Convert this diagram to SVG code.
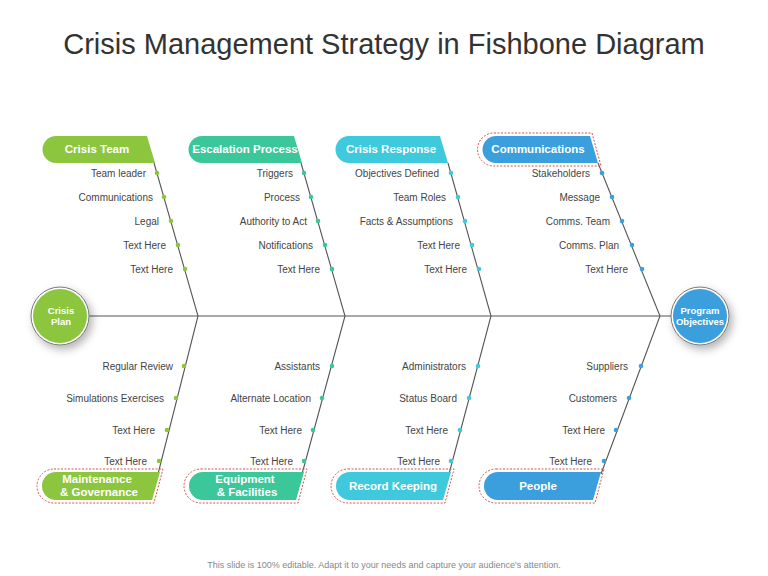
<svg xmlns="http://www.w3.org/2000/svg" width="768" height="576" viewBox="0 0 768 576">
<defs>
<style>
text{font-family:"Liberation Sans",Arial,sans-serif}
.t{font-size:29px;fill:#333;text-anchor:middle}
.l{font-size:10px;fill:#444;text-anchor:end}
.h{font-size:11.5px;font-weight:bold;fill:#fff;text-anchor:middle}
.bone{stroke:#555;stroke-width:1.1;fill:none}
.dash{fill:none;stroke:#d9534f;stroke-width:1;stroke-dasharray:2 1.5}
.g{fill:#8cc63f}.tl{fill:#3cc79a}.c{fill:#3ec9dc}.b{fill:#3a9fdc}
</style>
<filter id="sh" x="-50%" y="-50%" width="200%" height="200%"><feDropShadow dx="3" dy="4" stdDeviation="4" flood-color="#000" flood-opacity="0.3"/></filter>
</defs>
<rect width="768" height="576" fill="#fff"/>
<text class="t" x="384" y="54">Crisis Management Strategy in Fishbone Diagram</text>
<g id="connectors">
<line class="bone" x1="86" y1="316" x2="672" y2="316"/>
<polyline class="bone" points="154,163 198,316 158,474"/>
<polyline class="bone" points="301,163 345,316 302,474"/>
<polyline class="bone" points="448,163 491,316 449,474"/>
<polyline class="bone" points="598,163 660,316 601,474"/>
</g>
<g id="dots">
<g class="g"><circle cx="157" cy="173" r="2.3"/><circle cx="164" cy="197" r="2.3"/><circle cx="171" cy="221" r="2.3"/><circle cx="178" cy="245" r="2.3"/><circle cx="185" cy="269" r="2.3"/><circle cx="184" cy="366" r="2.3"/><circle cx="176" cy="398" r="2.3"/><circle cx="167" cy="430" r="2.3"/><circle cx="159" cy="461" r="2.3"/></g>
<g class="tl"><circle cx="304" cy="173" r="2.3"/><circle cx="311" cy="197" r="2.3"/><circle cx="318" cy="221" r="2.3"/><circle cx="325" cy="245" r="2.3"/><circle cx="332" cy="269" r="2.3"/><circle cx="332" cy="366" r="2.3"/><circle cx="322" cy="398" r="2.3"/><circle cx="313" cy="430" r="2.3"/><circle cx="304" cy="461" r="2.3"/></g>
<g class="c"><circle cx="451" cy="173" r="2.3"/><circle cx="458" cy="197" r="2.3"/><circle cx="465" cy="221" r="2.3"/><circle cx="472" cy="245" r="2.3"/><circle cx="479" cy="269" r="2.3"/><circle cx="478" cy="366" r="2.3"/><circle cx="469" cy="398" r="2.3"/><circle cx="460" cy="430" r="2.3"/><circle cx="451" cy="461" r="2.3"/></g>
<g class="b"><circle cx="602" cy="173" r="2.3"/><circle cx="612" cy="197" r="2.3"/><circle cx="622" cy="221" r="2.3"/><circle cx="632" cy="245" r="2.3"/><circle cx="642" cy="269" r="2.3"/><circle cx="641" cy="366" r="2.3"/><circle cx="629" cy="398" r="2.3"/><circle cx="616" cy="430" r="2.3"/><circle cx="604" cy="461" r="2.3"/></g>
</g>
<g id="labels">
<text class="l" x="146" y="177">Team leader</text><text class="l" x="153" y="201">Communications</text><text class="l" x="159" y="225">Legal</text><text class="l" x="166" y="249">Text Here</text><text class="l" x="173" y="273">Text Here</text>
<text class="l" x="173" y="370">Regular Review</text><text class="l" x="164" y="402">Simulations Exercises</text><text class="l" x="155" y="434">Text Here</text><text class="l" x="147" y="465">Text Here</text>
<text class="l" x="293" y="177">Triggers</text><text class="l" x="300" y="201">Process</text><text class="l" x="307" y="225">Authority to Act</text><text class="l" x="313" y="249">Notifications</text><text class="l" x="320" y="273">Text Here</text>
<text class="l" x="320" y="370">Assistants</text><text class="l" x="311" y="402">Alternate Location</text><text class="l" x="302" y="434">Text Here</text><text class="l" x="293" y="465">Text Here</text>
<text class="l" x="439" y="177">Objectives Defined</text><text class="l" x="446" y="201">Team Roles</text><text class="l" x="453" y="225">Facts &amp; Assumptions</text><text class="l" x="460" y="249">Text Here</text><text class="l" x="467" y="273">Text Here</text>
<text class="l" x="466" y="370">Administrators</text><text class="l" x="457" y="402">Status Board</text><text class="l" x="448" y="434">Text Here</text><text class="l" x="440" y="465">Text Here</text>
<text class="l" x="590" y="177">Stakeholders</text><text class="l" x="600" y="201">Message</text><text class="l" x="610" y="225">Comms. Team</text><text class="l" x="619" y="249">Comms. Plan</text><text class="l" x="628" y="273">Text Here</text>
<text class="l" x="628" y="370">Suppliers</text><text class="l" x="617" y="402">Customers</text><text class="l" x="605" y="434">Text Here</text><text class="l" x="592" y="465">Text Here</text>
</g>
<g id="crisis-team"><path class="g" d="M56,136 H147 L155,163 H56 A13.5,13.5 0 0 1 56,136 Z"/><text class="h" x="97" y="153">Crisis Team</text></g>
<g id="escalation-process"><path class="tl" d="M202,136 H294 L302,163 H202 A13.5,13.5 0 0 1 202,136 Z"/><text class="h" x="245" y="153">Escalation Process</text></g>
<g id="crisis-response"><path class="c" d="M349,136 H440 L448,163 H349 A13.5,13.5 0 0 1 349,136 Z"/><text class="h" x="391" y="153">Crisis Response</text></g>
<g id="communications"><path class="dash" d="M494,133 H592 L601,166 H494 A16.5,16.5 0 0 1 494,133 Z"/><path class="b" d="M496,136 H590 L598,163 H496 A13.5,13.5 0 0 1 496,136 Z"/><text class="h" x="538" y="153">Communications</text></g>
<g id="maintenance"><path class="dash" d="M54,469 H163 L154,503 H54 A17,17 0 0 1 54,469 Z"/><path class="g" d="M56,472 H160 L152,500 H56 A14,14 0 0 1 56,472 Z"/><text class="h" x="97" y="483">Maintenance</text><text class="h" x="99" y="496">&amp; Governance</text></g>
<g id="equipment"><path class="dash" d="M201,469 H307 L298,503 H201 A17,17 0 0 1 201,469 Z"/><path class="tl" d="M203,472 H304 L296,500 H203 A14,14 0 0 1 203,472 Z"/><text class="h" x="245" y="483">Equipment</text><text class="h" x="247" y="496">&amp; Facilities</text></g>
<g id="record-keeping"><path class="dash" d="M348,469 H454 L445,503 H348 A17,17 0 0 1 348,469 Z"/><path class="c" d="M350,472 H451 L443,500 H350 A14,14 0 0 1 350,472 Z"/><text class="h" x="393" y="490">Record Keeping</text></g>
<g id="people"><path class="dash" d="M496,469 H604 L595,503 H496 A17,17 0 0 1 496,469 Z"/><path class="b" d="M498,472 H601 L593,500 H498 A14,14 0 0 1 498,472 Z"/><text class="h" x="538" y="490">People</text></g>
<g id="crisis-plan"><circle cx="60" cy="316" r="29" fill="#fff" stroke="#777" stroke-width="1" filter="url(#sh)"/><circle cx="60" cy="316" r="27" class="g"/><text class="h" style="font-size:9.5px" x="61" y="314">Crisis</text><text class="h" style="font-size:9.5px" x="61" y="325">Plan</text></g>
<g id="program-objectives"><circle cx="700" cy="316" r="29" fill="#fff" stroke="#777" stroke-width="1" filter="url(#sh)"/><circle cx="700" cy="316" r="27" class="b"/><text class="h" style="font-size:9.5px" x="700" y="314">Program</text><text class="h" style="font-size:9.5px" x="700" y="325">Objectives</text></g>
<text x="384" y="568" style="font-size:9px;fill:#888;text-anchor:middle">This slide is 100% editable. Adapt it to your needs and capture your audience's attention.</text>
</svg>
